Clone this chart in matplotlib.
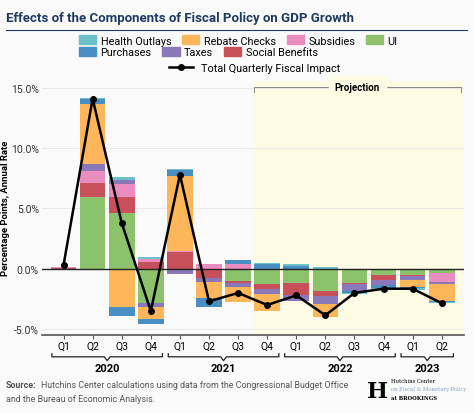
import matplotlib
matplotlib.use("Agg")
import matplotlib.pyplot as plt
import matplotlib.transforms as mtransforms
import numpy as np

plt.rcParams["font.family"] = ["Roboto", "DejaVu Sans"]

quarters = ["Q1", "Q2", "Q3", "Q4", "Q1", "Q2", "Q3", "Q4",
            "Q1", "Q2", "Q3", "Q4", "Q1", "Q2"]
years = ["2020", "2021", "2022", "2023"]
year_spans = [(0, 3), (4, 7), (8, 11), (12, 13)]

# stacking order from zero outward
components = ["UI", "Social Benefits", "Subsidies", "Taxes",
              "Rebate Checks", "Purchases", "Health Outlays"]
colors = {
    "Health Outlays": "#6cc0cc",
    "Purchases": "#4a8fc4",
    "Rebate Checks": "#fdb65a",
    "Subsidies": "#e98cc0",
    "Taxes": "#8a78b8",
    "Social Benefits": "#c8505b",
    "UI": "#8bc26b",
}
values = {
    "UI":              [0.0, 5.94, 4.64, -2.85, 0.0, 0.0, -1.02, -1.24, -1.16, -1.80, -1.16, -0.50, -0.50, -0.36],
    "Social Benefits": [0.05, 1.19, 1.30, 0.55, 1.38, -0.75, -0.14, -0.41, -1.05, -0.47, -0.14, -0.41, -0.10, 0.0],
    "Subsidies":       [0.08, 0.97, 1.05, 0.25, 0.08, 0.36, 0.41, 0.0, 0.0, 0.0, 0.0, 0.0, 0.0, -0.75],
    "Taxes":           [0.0, 0.58, 0.39, -0.28, -0.44, -0.33, -0.36, -0.41, -0.47, -0.63, -0.58, -0.47, -0.36, -0.19],
    "Rebate Checks":   [0.0, 5.00, -3.18, -1.02, 6.19, -1.33, -1.24, -1.46, 0.0, -1.10, 0.0, 0.0, -0.55, -1.33],
    "Purchases":       [0.0, 0.36, -0.75, -0.44, 0.50, -0.77, 0.30, 0.40, 0.26, 0.0, -0.12, -0.20, -0.10, -0.08],
    "Health Outlays":  [0.0, 0.14, 0.22, 0.17, 0.08, 0.0, 0.0, 0.10, 0.10, 0.14, -0.10, -0.13, -0.12, -0.14],
}
total = [0.3, 14.1, 3.8, -3.5, 7.8, -2.7, -2.0, -3.0, -2.2, -3.85, -2.0, -1.65, -1.65, -2.85]

fig = plt.figure(figsize=(4.74, 4.14), dpi=100, facecolor="#fafafa")
ax = fig.add_axes([0.088, 0.188, 0.89, 0.615], facecolor="#fafafa")

x = np.arange(len(quarters))
ax.axvspan(6.5, 13.75, color="#fdfbe4", zorder=0)

pos = np.zeros(len(x))
neg = np.zeros(len(x))
for name in components:
    v = np.array(values[name])
    bottom = np.where(v >= 0, pos, neg)
    ax.bar(x, v, bottom=bottom, width=0.88, color=colors[name], zorder=2, label=name)
    pos += np.where(v >= 0, v, 0)
    neg += np.where(v < 0, v, 0)

ax.axhline(0, color="#222222", lw=1, zorder=3)
line, = ax.plot(x, total, color="black", lw=1.8, marker="o", ms=4, zorder=4,
                label="Total Quarterly Fiscal Impact")

ax.set_xlim(-0.75, 13.75)
ax.set_ylim(-5.5, 15.6)
ax.set_yticks([-5, 0, 5, 10, 15])
ax.set_yticklabels(["-5.0%", "0.0%", "5.0%", "10.0%", "15.0%"], fontsize=7.5, color="#333333")
ax.yaxis.grid(True, color="#e6e6e6", lw=0.6)
ax.set_axisbelow(True)
ax.tick_params(axis="y", length=0, pad=2)
ax.set_xticks(x)
ax.set_xticklabels(quarters, fontsize=7.5)
ax.tick_params(axis="x", length=3, color="#555555", pad=1)
for s in ["top", "right", "left"]:
    ax.spines[s].set_visible(False)
ax.spines["bottom"].set_color("#555555")
ax.spines["bottom"].set_linewidth(1.2)
ax.set_ylabel("Percentage Points, Annual Rate", fontsize=6.8, fontweight="bold", labelpad=1)

# year brackets
trans = mtransforms.blended_transform_factory(ax.transData, ax.transAxes)
for yr, (a, b) in zip(years, year_spans):
    xa, xb = a - 0.4, b + 0.4
    mid = (a + b) / 2
    yb = -0.085
    ax.plot([xa, xa, mid - 0.1, mid, mid + 0.1, xb, xb],
            [yb + 0.012, yb, yb, yb - 0.015, yb, yb, yb + 0.012],
            transform=trans, color="#222222", lw=0.9, clip_on=False)
    ax.text(mid, -0.13, yr, transform=trans, ha="center", va="center",
            fontsize=8, fontweight="bold")

# projection label
ax.plot([6.55, 6.55, 13.65, 13.65], [0.955, 0.975, 0.975, 0.955], transform=trans,
        color="#888888", lw=0.7)
ax.text(10.1, 0.975, "Projection", transform=trans, ha="center", va="center",
        fontsize=7, fontweight="bold", backgroundcolor="#fdfbe4")

# title
fig.text(0.012, 0.955, "Effects of the Components of Fiscal Policy on GDP Growth",
         fontsize=9.5, fontweight="bold", color="#1f3a63", va="center")
fig.add_artist(plt.Line2D([0.012, 0.985], [0.925, 0.925], color="#1f3a63", lw=0.8))

# legend
order = ["Health Outlays", "Rebate Checks", "Subsidies", "UI",
         "Purchases", "Taxes", "Social Benefits"]
bar_handles = [plt.Rectangle((0, 0), 1, 1, color=colors[n]) for n in order]
fig.legend(bar_handles[:4], order[:4], loc="center left", ncol=4,
           bbox_to_anchor=(0.155, 0.9), frameon=False, fontsize=7.8,
           handlelength=1.6, handleheight=0.9, columnspacing=1.0,
           handletextpad=0.4, borderpad=0)
fig.legend(bar_handles[4:], order[4:], loc="center left", ncol=3,
           bbox_to_anchor=(0.155, 0.872), frameon=False, fontsize=7.8,
           handlelength=1.6, handleheight=0.9, columnspacing=1.0,
           handletextpad=0.4, borderpad=0)
fig.legend([line], ["Total Quarterly Fiscal Impact"], loc="center left",
           bbox_to_anchor=(0.345, 0.833), frameon=False, fontsize=7.8,
           handlelength=2.2, borderpad=0)

# source
fig.text(0.012, 0.062, "Source:", fontsize=6.4, fontweight="bold", color="#555555")
fig.text(0.087, 0.062, "Hutchins Center calculations using data from the Congressional Budget Office",
         fontsize=6.4, color="#555555")
fig.text(0.012, 0.028, "and the Bureau of Economic Analysis.", fontsize=6.4, color="#555555")
fig.text(0.775, 0.052, "H", fontsize=16, fontweight="bold", family="DejaVu Serif", va="center")
fig.text(0.825, 0.078, "Hutchins Center", fontsize=3.8, family="DejaVu Serif", va="center")
fig.text(0.825, 0.058, "on Fiscal & Monetary Policy", fontsize=3.8, family="DejaVu Serif",
         color="#8aa0c8", va="center")
fig.text(0.825, 0.038, "at BROOKINGS", fontsize=3.8, family="DejaVu Serif",
         fontweight="bold", va="center")

fig.savefig("out.png", dpi=100, facecolor=fig.get_facecolor())
